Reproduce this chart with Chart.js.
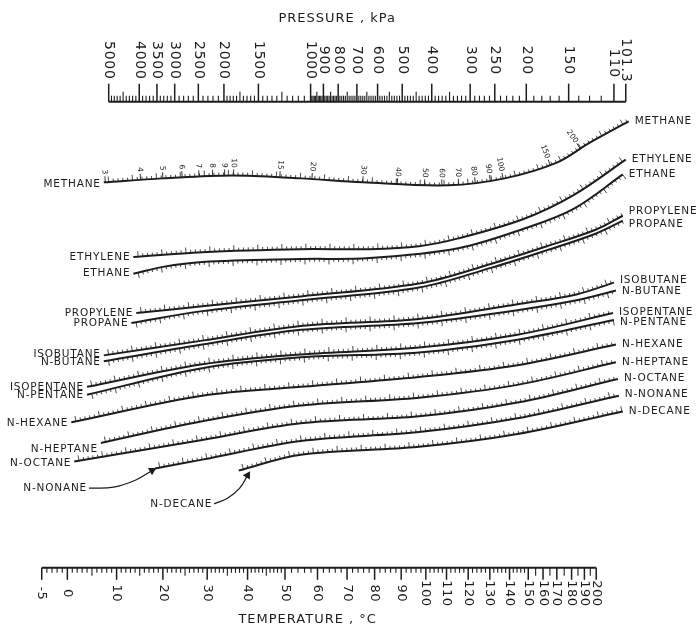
<!DOCTYPE html>
<html>
<head>
<meta charset="utf-8">
<script src="https://cdn.jsdelivr.net/npm/chart.js@4.4.1/dist/chart.umd.min.js"></script>
<style>
html,body{margin:0;padding:0;background:#fff;}
#wrap{width:700px;height:638px;position:relative;}
</style>
</head>
<body>
<div id="wrap"><canvas id="c" width="700" height="638"></canvas></div>
<script>
// Pressure scale (kPa): tick labels and where each sits along the nomograph's x grid
const pressureLabels = ['5000','4000','3500','3000','2500','2000','1500','1000','900','800','700','600','500','400','300','250','200','150','110','101.3'];
const pressureValues = [5000,4000,3500,3000,2500,2000,1500,1000,900,800,700,600,500,400,300,250,200,150,110,101.3];
const pressureScaleAt = [105,136,154,172,196,222,257,310,323,338,357,378,403,433,472,497,529,572,618,630];

// Temperature scale (°C)
const temperatureLabels = ['-5','0','10','20','30','40','50','60','70','80','90','100','110','120','130','140','150','160','170','180','190','200'];
const temperatureValues = [-5,0,10,20,30,40,50,60,70,80,90,100,110,120,130,140,150,160,170,180,190,200];
const temperatureScaleAt = [37,63,113,160,205,246,284,317,347,375,402,427,448,470,492,512,531,546,560,575,588,600];

// Component names (one K-value curve each)
const compounds = ['METHANE','ETHYLENE','ETHANE','PROPYLENE','PROPANE','ISOBUTANE','N-BUTANE','ISOPENTANE','N-PENTANE','N-HEXANE','N-HEPTANE','N-OCTANE','N-NONANE','N-DECANE'];

// K-value curves traced on the nomograph grid (x across, y down)
const methane    = [[100,180],[160,176],[230,173],[300,176],[363,180],[450,183],[507,176],[560,160],[593,140],[633,118]];
const ethylene   = [[130,256],[200,251],[300,248],[370,248],[420,245],[460,237],[527,217],[577,193],[630,157]];
const ethane     = [[130,273],[160,266],[200,261],[300,258],[370,257],[460,247],[527,227],[577,207],[627,172]];
const propylene  = [[133,313],[200,306],[300,296],[420,283],[493,263],[550,245],[600,228],[627,214]];
const propane    = [[128,323],[200,311],[300,300],[420,287],[493,267],[550,249],[600,232],[627,219]];
const isobutane  = [[100,356],[200,341],[300,326],[420,319],[520,304],[580,294],[618,282]];
const nButane    = [[100,362],[200,345],[300,330],[420,323],[520,310],[580,300],[620,290]];
const isopentane = [[83,388],[200,365],[300,355],[420,348],[520,335],[617,313]];
const nPentane   = [[83,396],[200,369],[300,358],[420,353],[520,340],[618,320]];
const nHexane    = [[67,424],[200,397],[300,388],[420,378],[520,366],[620,345]];
const nHeptane   = [[97,445],[200,423],[300,407],[420,399],[520,386],[620,363]];
const nOctane    = [[70,464],[200,442],[300,425],[420,418],[520,404],[622,380]];
const nNonane    = [[152,471],[200,462],[300,443],[420,434],[520,420],[623,397]];
const nDecane    = [[237,473],[300,457],[420,449],[520,436],[627,413]];

const curves = [methane,ethylene,ethane,propylene,propane,isobutane,nButane,isopentane,nPentane,nHexane,nHeptane,nOctane,nNonane,nDecane];

// K-value graduation numbers printed along the methane curve, and where they sit across
const methaneK   = ['3','4','5','6','7','8','9','10','15','20','30','40','50','60','70','80','90','100','150','200'];
const methaneKAt = [99,137,160,180,197,210,222,232,278,312,363,397,425,443,460,477,492,506,553,584];

// ================= LAYOUT / STYLE =================
const INK = '#1d1d1d';
const tickSide = [-1,-1,1,-1,1,-1,1,-1,1,-1,-1,-1,-1,-1]; // -1 ticks above the curve, 1 below
const leftNudge  = [2,0,0,0,0,-1,1,0,1,1,6,2,0,0];
const rightNudge = [0,0,0,-4,4,-2,1,-1,2,0,0,-1,-1,0];
const nonaneArrow = [[85,491],[110,490],[132,483],[149,473]];
const decaneArrow = [[212,507],[226,501],[238,491],[246,478]];
const LABEL_FONT = '10.5px "DejaVu Sans", sans-serif';

function toXY(arr){ return arr.map(p => ({x:p[0], y:p[1]})); }

const datasets = curves.map((c,i) => ({
  label: compounds[i],
  data: toXY(c),
  showLine: true,
  borderColor: INK,
  borderWidth: 2,
  pointRadius: 0,
  tension: 0.35,
  fill: false
}));

function arrowSet(arr){
  return {
    label: 'arrow',
    data: toXY(arr),
    showLine: true,
    borderColor: INK,
    borderWidth: 1.3,
    tension: 0.4,
    pointStyle: 'triangle',
    pointBackgroundColor: INK,
    pointBorderColor: INK,
    pointRadius: ctx => ctx.dataIndex === arr.length - 1 ? 3.5 : 0,
    pointRotation: ctx => {
      const n = arr.length, a = arr[n-2], b = arr[n-1];
      return Math.atan2(b[0]-a[0], -(b[1]-a[1])) * 180 / Math.PI;
    }
  };
}
datasets.push(arrowSet(nonaneArrow));
datasets.push(arrowSet(decaneArrow));

function sampleCurve(pts){
  const out = [];
  for (let i = 0; i < pts.length - 1; i++) {
    const a = pts[i], b = pts[i+1];
    const c1x = (a.cp2x !== undefined) ? a.cp2x : a.x, c1y = (a.cp2y !== undefined) ? a.cp2y : a.y;
    const c2x = (b.cp1x !== undefined) ? b.cp1x : b.x, c2y = (b.cp1y !== undefined) ? b.cp1y : b.y;
    for (let k = (i ? 1 : 0); k <= 40; k++) {
      const t = k/40, u = 1-t;
      out.push([u*u*u*a.x + 3*u*u*t*c1x + 3*u*t*t*c2x + t*t*t*b.x,
                u*u*u*a.y + 3*u*u*t*c1y + 3*u*t*t*c2y + t*t*t*b.y]);
    }
  }
  return out;
}

function drawRotated(ctx, text, x, y, ang){
  ctx.save();
  ctx.translate(x, y);
  ctx.rotate(ang === undefined ? Math.PI/2 : ang);
  ctx.textAlign = 'center';
  ctx.textBaseline = 'middle';
  ctx.fillText(text, 0, 0);
  ctx.restore();
}

function logInterp(v, values, pos){
  for (let i = 0; i < values.length - 1; i++) {
    const a = values[i], b = values[i+1];
    if (v <= a && v >= b) {
      const t = (Math.log(a) - Math.log(v)) / (Math.log(a) - Math.log(b));
      return pos[i] + t * (pos[i+1] - pos[i]);
    }
  }
  return null;
}
function linInterp(v, values, pos){
  for (let i = 0; i < values.length - 1; i++) {
    const a = values[i], b = values[i+1];
    if (v >= a && v <= b) return pos[i] + (v-a)/(b-a) * (pos[i+1]-pos[i]);
  }
  return null;
}

const nomoPlugin = {
  id: 'nomo',
  afterDatasetsDraw(chart){
    const ctx = chart.ctx;
    const xs = chart.scales.x, ys = chart.scales.y;
    const X = v => xs.getPixelForValue(v), Y = v => ys.getPixelForValue(v);
    ctx.save();
    ctx.fillStyle = INK;
    ctx.strokeStyle = INK;

    // ---- graduation ticks along each K curve ----
    ctx.lineWidth = 0.8;
    const paths = [];
    curves.forEach((c, i) => {
      const meta = chart.getDatasetMeta(i);
      const path = sampleCurve(meta.data);
      paths.push(path);
      const spacing = 4.8;
      const s = tickSide[i];
      let acc = 0, n = 0;
      for (let k = 1; k < path.length; k++) {
        const [x0,y0] = path[k-1], [x1,y1] = path[k];
        const seg = Math.hypot(x1-x0, y1-y0);
        if (!seg) continue;
        const tx = (x1-x0)/seg, ty = (y1-y0)/seg;
        const nx = -s*ty, ny = s*tx;
        let d = spacing - acc;
        while (d <= seg) {
          const px = x0 + tx*d, py = y0 + ty*d;
          const len = (n % 5 === 0) ? 5.5 : 3;
          ctx.beginPath();
          ctx.moveTo(px, py);
          ctx.lineTo(px + nx*len, py + ny*len);
          ctx.stroke();
          n++;
          d += spacing;
        }
        acc = seg - (d - spacing);
      }
    });

    // ---- K numbers along the methane curve ----
    ctx.font = '7.5px "DejaVu Sans", sans-serif';
    const mPath = paths[0];
    methaneK.forEach((t, j) => {
      const px = X(methaneKAt[j]);
      let best = 1;
      for (let k = 1; k < mPath.length; k++) {
        if (Math.abs(mPath[k][0] - px) < Math.abs(mPath[best][0] - px)) best = k;
      }
      const a = mPath[Math.max(0, best-1)], b = mPath[Math.min(mPath.length-1, best+1)];
      const ang = Math.atan2(b[1]-a[1], b[0]-a[0]);
      const tx = Math.cos(ang), ty = Math.sin(ang);
      const off = 8 + t.length * 2.2;
      const cx = mPath[best][0] + ty*off, cy = mPath[best][1] - tx*off;
      // tick to the number
      ctx.lineWidth = 0.9;
      ctx.beginPath();
      ctx.moveTo(mPath[best][0], mPath[best][1]);
      ctx.lineTo(mPath[best][0] + ty*6, mPath[best][1] - tx*6);
      ctx.stroke();
      drawRotated(ctx, t, cx, cy, ang + Math.PI/2);
    });

    // ---- compound labels ----
    ctx.font = LABEL_FONT;
    if ('letterSpacing' in ctx) ctx.letterSpacing = '0.8px';
    ctx.textBaseline = 'middle';
    curves.forEach((c, i) => {
      const first = c[0], last = c[c.length-1];
      ctx.textAlign = 'left';
      ctx.fillText(compounds[i], X(last[0]) + 6, Y(last[1]) + rightNudge[i]);
      ctx.textAlign = 'right';
      if (compounds[i] === 'N-NONANE') {
        ctx.fillText(compounds[i], X(nonaneArrow[0][0]) - 2, Y(nonaneArrow[0][1]));
      } else if (compounds[i] === 'N-DECANE') {
        ctx.fillText(compounds[i], X(decaneArrow[0][0]) - 2, Y(decaneArrow[0][1]));
      } else {
        ctx.fillText(compounds[i], X(first[0]) - 3, Y(first[1]) + leftNudge[i]);
      }
    });

    // ---- pressure axis (top) ----
    const pY = Y(98);
    ctx.lineWidth = 2;
    ctx.beginPath();
    ctx.moveTo(X(pressureScaleAt[0]), pY);
    ctx.lineTo(X(pressureScaleAt[pressureScaleAt.length-1]), pY);
    ctx.stroke();
    ctx.lineWidth = 1.1;
    const pMinor = [];
    for (let v = 4900; v > 2000; v -= 100) pMinor.push([v, v % 500 === 0 ? 10 : 6]);
    for (let v = 1950; v > 1000; v -= 50) pMinor.push([v, v % 250 === 0 ? 10 : 6]);
    for (let v = 990; v > 110; v -= 10) pMinor.push([v, v % 50 === 0 ? 10 : 6]);
    pMinor.forEach(([v, len]) => {
      if (pressureValues.includes(v)) return;
      const px = logInterp(v, pressureValues, pressureScaleAt);
      if (px === null) return;
      ctx.beginPath(); ctx.moveTo(X(px), pY); ctx.lineTo(X(px), pY - len); ctx.stroke();
    });
    ctx.lineWidth = 1.5;
    pressureScaleAt.forEach(px => {
      ctx.beginPath(); ctx.moveTo(X(px), pY); ctx.lineTo(X(px), pY - 18); ctx.stroke();
    });
    ctx.font = '14px "DejaVu Sans", sans-serif';
    if ('letterSpacing' in ctx) ctx.letterSpacing = '0.8px';
    pressureLabels.forEach((t, i) => {
      const y = (t === '110') ? 59 : 56;
      drawRotated(ctx, t, X(pressureScaleAt[i]), Y(y));
    });

    // ---- temperature axis (bottom) ----
    const tY = Y(572);
    ctx.lineWidth = 2;
    ctx.beginPath();
    ctx.moveTo(X(temperatureScaleAt[0]), tY);
    ctx.lineTo(X(temperatureScaleAt[temperatureScaleAt.length-1]), tY);
    ctx.stroke();
    ctx.lineWidth = 1.1;
    const tMinor = [];
    for (let v = -4; v < 50; v += 1) tMinor.push(v);
    for (let v = 52; v < 150; v += 2) tMinor.push(v);
    for (let v = 155; v < 200; v += 5) tMinor.push(v);
    tMinor.forEach(v => {
      if (temperatureValues.includes(v)) return;
      const px = linInterp(v, temperatureValues, temperatureScaleAt);
      const len = (v % 5 === 0) ? 8 : 5;
      ctx.beginPath(); ctx.moveTo(X(px), tY); ctx.lineTo(X(px), tY + len); ctx.stroke();
    });
    ctx.lineWidth = 1.5;
    temperatureScaleAt.forEach(px => {
      ctx.beginPath(); ctx.moveTo(X(px), tY); ctx.lineTo(X(px), tY + 12); ctx.stroke();
    });
    ctx.font = '13px "DejaVu Sans", sans-serif';
    if ('letterSpacing' in ctx) ctx.letterSpacing = '0.5px';
    temperatureLabels.forEach((t, i) => {
      drawRotated(ctx, t, X(temperatureScaleAt[i]), Y(598));
    });

    // ---- axis titles ----
    ctx.font = '13px "DejaVu Sans", sans-serif';
    if ('letterSpacing' in ctx) ctx.letterSpacing = '1px';
    ctx.textAlign = 'center';
    ctx.textBaseline = 'middle';
    ctx.fillText('PRESSURE , kPa', X(337), Y(14));
    ctx.fillText('TEMPERATURE , °C', X(307), Y(625));
    ctx.restore();
  }
};

new Chart(document.getElementById('c'), {
  type: 'scatter',
  data: { datasets },
  options: {
    responsive: false,
    animation: false,
    events: [],
    layout: { padding: 0 },
    plugins: { legend: { display: false }, tooltip: { enabled: false }, title: { display: false } },
    scales: {
      x: { type: 'linear', min: 0, max: 700, display: false },
      y: { type: 'linear', min: 0, max: 638, reverse: true, display: false }
    }
  },
  plugins: [nomoPlugin]
});
</script>
</body>
</html>
